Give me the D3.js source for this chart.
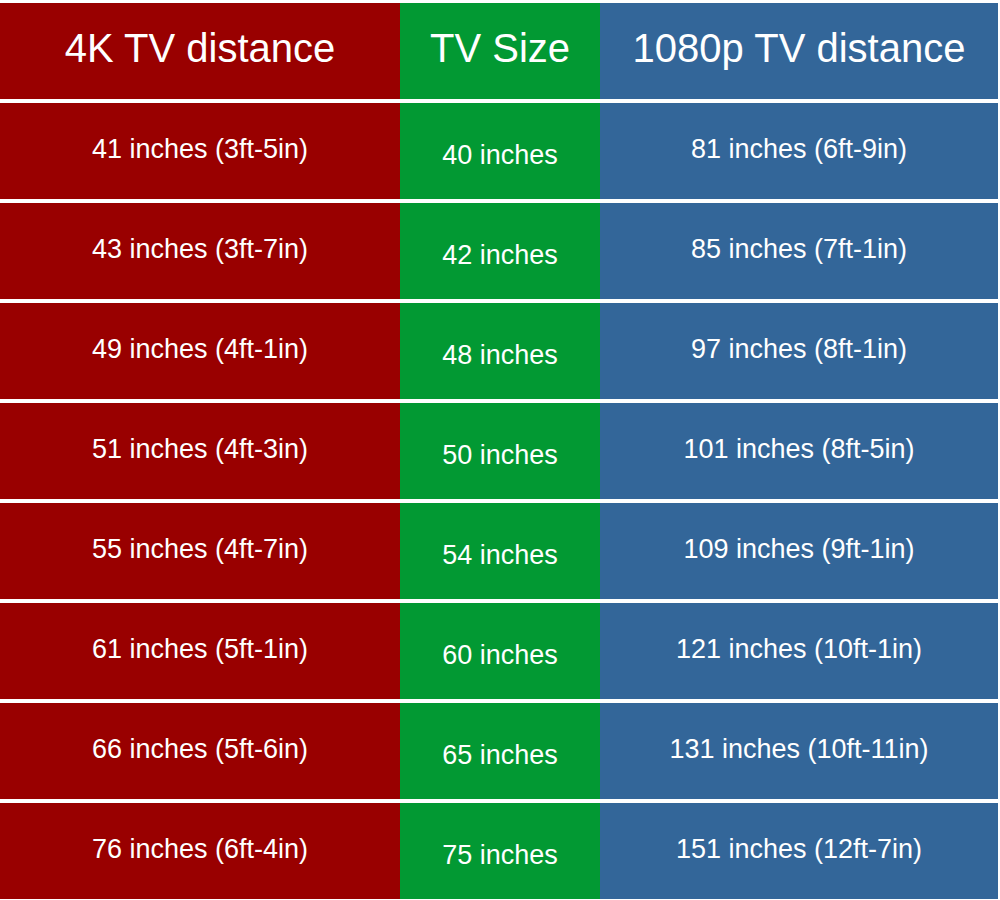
<!DOCTYPE html><html><head><meta charset="utf-8">
<script src="https://cdn.jsdelivr.net/npm/d3@7"></script>
<style>body{margin:0;background:#fff}</style></head><body><svg id="c" width="1000" height="900"></svg>
<script>
const headers = ["4K TV distance", "TV Size", "1080p TV distance"];
const dist4k = ["41 inches (3ft-5in)","43 inches (3ft-7in)","49 inches (4ft-1in)","51 inches (4ft-3in)","55 inches (4ft-7in)","61 inches (5ft-1in)","66 inches (5ft-6in)","76 inches (6ft-4in)"];
const sizes = ["40 inches","42 inches","48 inches","50 inches","54 inches","60 inches","65 inches","75 inches"];
const dist1080 = ["81 inches (6ft-9in)","85 inches (7ft-1in)","97 inches (8ft-1in)","101 inches (8ft-5in)","109 inches (9ft-1in)","121 inches (10ft-1in)","131 inches (10ft-11in)","151 inches (12ft-7in)"];
const colors = ["#990000","#029933","#336699"];
const cols = [dist4k, sizes, dist1080];
const svg = d3.select("#c");
const x = d3.scaleOrdinal().domain([0,1,2]).range([0,400,600]);
const widths = [400,200,398];
const y = d3.scaleBand().domain(d3.range(9)).range([1,901]).paddingInner(0.04).paddingOuter(0.02);
const rows = [headers].concat(d3.range(8).map(i=>cols.map(c=>c[i])));
rows.forEach((r,ri)=>{
  r.forEach((t,ci)=>{
    svg.append("rect").attr("x",x(ci)).attr("y",y(ri)).attr("width",widths[ci]).attr("height",y.bandwidth()).attr("fill",colors[ci]);
    svg.append("text").attr("x",x(ci)+widths[ci]/2).attr("y",y(ri)+y.bandwidth()/2 + (ri===0?-3:(ci===1?4:-2)))
      .attr("text-anchor","middle").attr("dominant-baseline","central")
      .attr("font-family","Liberation Sans, Arial, sans-serif").attr("font-size", ri===0?40:27)
      .attr("fill","#fff").text(t);
  });
});
</script></body></html>
